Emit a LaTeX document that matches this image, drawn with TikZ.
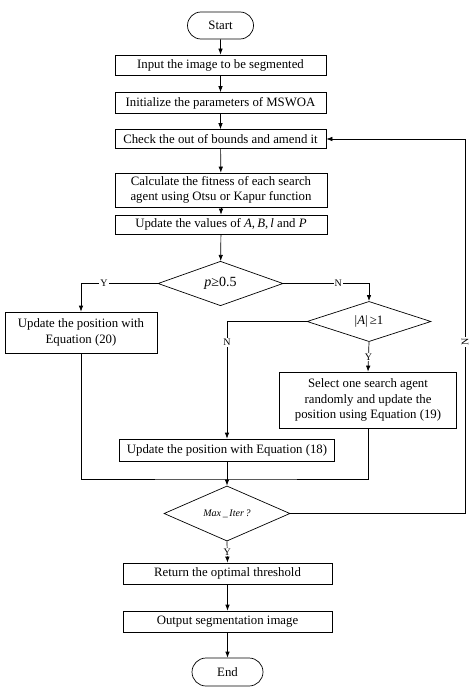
\documentclass[tikz,border=0pt]{standalone}
\usepackage{fontspec}
\setmainfont{Liberation Serif}
\usetikzlibrary{arrows.meta,shapes.geometric,shapes.misc}
\begin{document}
\begin{tikzpicture}[x=1pt,y=-1pt,line width=0.7pt,
  box/.style={draw,rectangle,inner sep=0pt,align=center,font=\fontsize{12.8}{15.5}\selectfont},
  term/.style={draw,rounded rectangle,inner sep=0pt,font=\fontsize{12.8}{15.5}\selectfont},
  dia/.style={draw,diamond,inner sep=0pt,font=\fontsize{12.8}{15.5}\selectfont},
  lbl/.style={fill=white,inner sep=1pt,font=\fontsize{10}{11}\selectfont},
  arr/.style={-{Latex[length=6pt,width=4.5pt]}}]
\useasboundingbox (0,0) rectangle (474,693);
\node[term,minimum width=66pt,minimum height=27pt] (start) at (220.5,25.5) {Start};
\node[box,minimum width=211pt,minimum height=20pt] (input) at (220.5,65) {Input the image to be segmented};
\node[box,minimum width=211pt,minimum height=21pt] (init) at (220.5,103) {Initialize the parameters of MSWOA};
\node[box,minimum width=211pt,minimum height=19pt] (check) at (220.5,139) {Check the out of bounds and amend it};
\node[box,minimum width=212pt,minimum height=34pt] (calc) at (221,190) {Calculate the fitness of each search\\agent using Otsu or Kapur function};
\node[box,minimum width=212pt,minimum height=19pt] (upd) at (221,224.5) {Update the values of \textit{A},\,\textit{B},\,\textit{l} and \textit{P}};
\node[dia,minimum width=125pt,minimum height=29pt] (d1) at (220.5,283.5) {\fontsize{14}{15}\selectfont\textit{p}≥0.5};
\node[box,minimum width=152pt,minimum height=41pt] (b20) at (81,332.5) {Update the position with\\Equation (20)};
\node[dia,minimum width=124pt,minimum height=29pt] (d2) at (369,321.5) {|\textit{A}|\,≥1};
\node[box,minimum width=177pt,minimum height=56pt] (b19) at (368,400) {Select one search agent\\randomly and update the\\position using Equation (19)};
\node[box,minimum width=215pt,minimum height=22pt] (b18) at (227,450) {Update the position with Equation (18)};
\node[dia,minimum width=126pt,minimum height=29pt] (d3) at (227,513.5) {\fontsize{10}{11}\selectfont\textit{Max\,\_\,Iter\,?}};
\node[box,minimum width=209pt,minimum height=21pt] (ret) at (227.5,573.5) {Return the optimal threshold};
\node[box,minimum width=209pt,minimum height=21pt] (out) at (227.5,621.5) {Output segmentation image};
\node[term,minimum width=71pt,minimum height=28pt] (end) at (227.5,672) {End};
\coordinate (m) at (227,479);
\coordinate (rc) at (465,139);
\draw[arr] (start) -- (input);
\draw[arr] (input) -- (init);
\draw[arr] (init) -- (check);
\draw[arr] (check) -- (calc);
\draw[arr] (calc) -- (upd);
\draw[arr] (upd) -- (d1);
\draw[arr] (d1.west) -- node[lbl,pos=0.7]{Y} (b20.north |- d1.west) -- (b20.north);
\draw[arr] (d1.east) -- node[lbl,pos=0.64]{N} (d2.north |- d1.east) -- (d2.north);
\draw[arr] (d2.west) -- (b18.north |- d2.west) -- node[lbl,pos=0.18]{N} (b18.north);
\draw[arr] (d2.south) -- node[lbl,pos=0.5]{Y} (b19.north);
\draw (b20.south) |- (m) -| (b19.south);
\draw[arr] (b18.south) -- (d3.north);
\draw[arr] (d3.east) -- (d3.east -| rc) -- node[lbl,pos=0.458,rotate=90]{N} (rc) -- (check.east);
\draw[arr] (d3.south) -- node[lbl,pos=0.49]{Y} (ret.north);
\draw[arr] (ret) -- (out);
\draw[arr] (out) -- (end);
\end{tikzpicture}
\end{document}
